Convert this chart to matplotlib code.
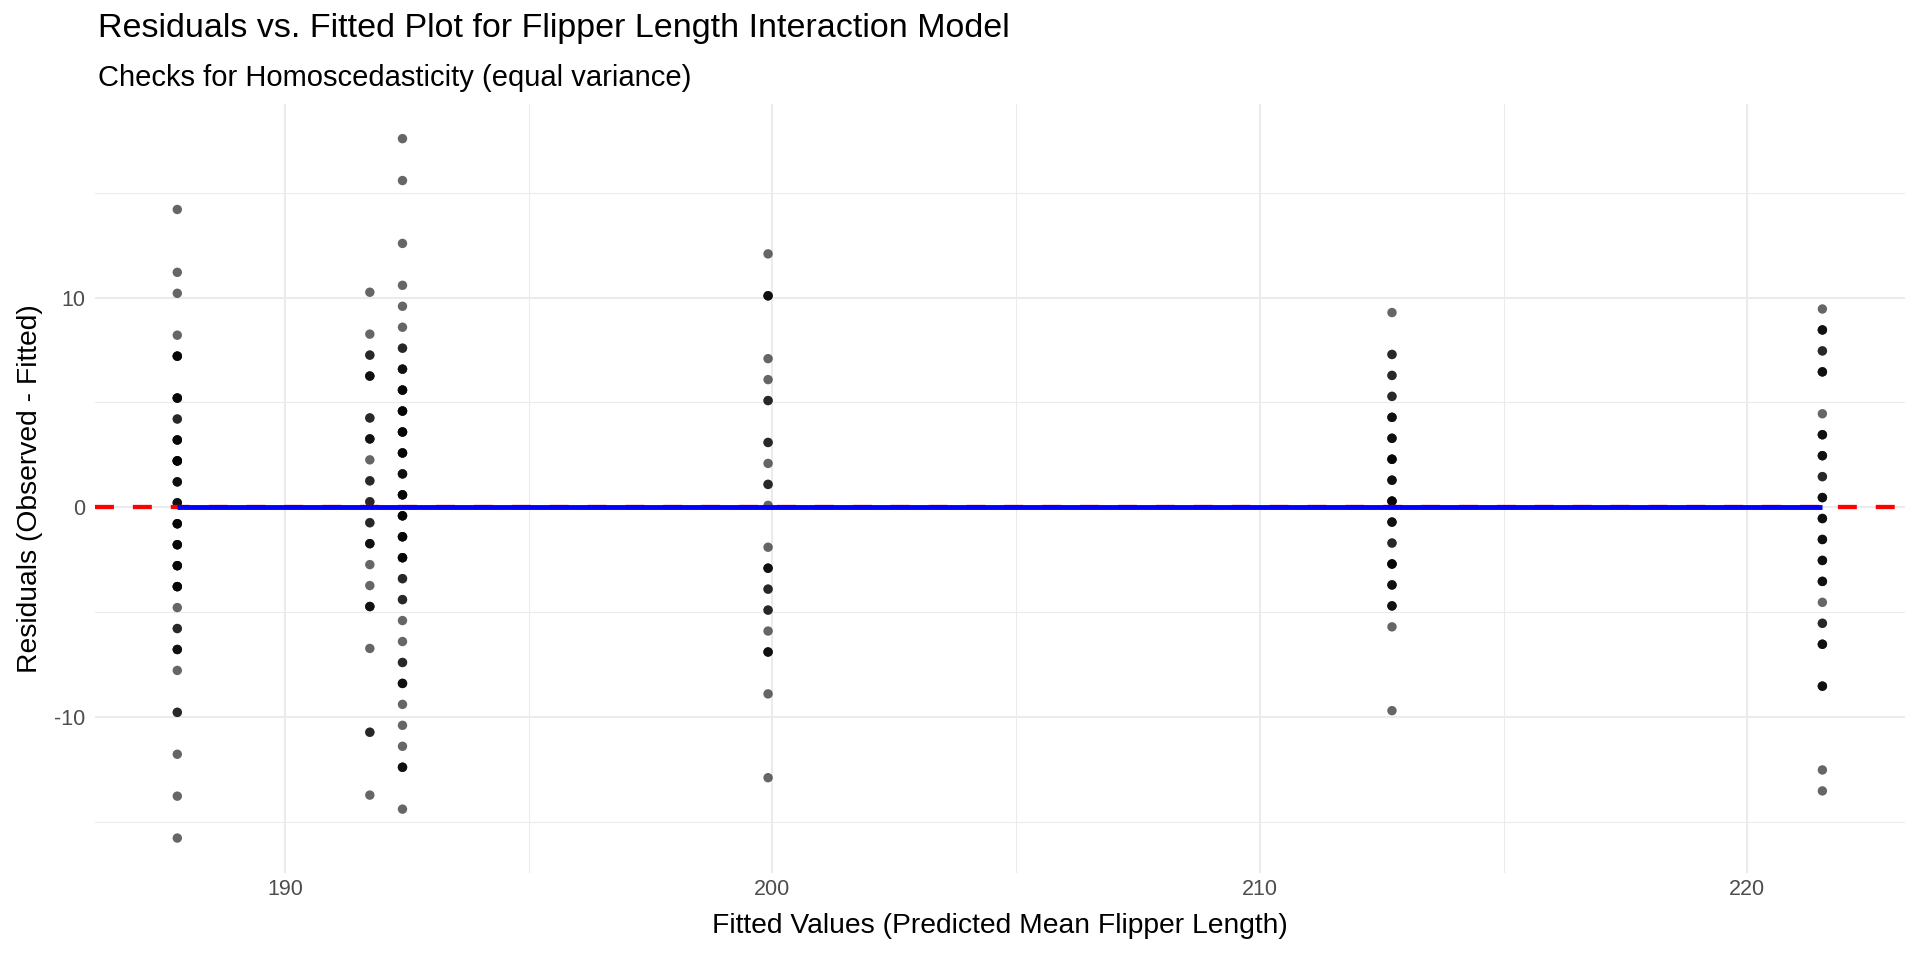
import numpy as np
import matplotlib
matplotlib.use("Agg")
import matplotlib.pyplot as plt

# fitted group means (species x sex) and observed flipper lengths per group
fitted = [187.79, 191.74, 192.41, 199.91, 212.71, 221.54]
groups = ["Adelie F", "Chinstrap F", "Adelie M", "Chinstrap M", "Gentoo F", "Gentoo M"]

obs_adelie_f = {202: 1, 199: 1, 198: 1, 196: 1, 195: 4, 193: 4, 192: 2, 191: 4,
                190: 6, 189: 3, 188: 3, 187: 4, 186: 4, 185: 4, 184: 4, 183: 1,
                182: 2, 181: 3, 180: 1, 178: 2, 176: 1, 174: 1, 172: 1}
obs_chinstrap_f = {202: 1, 200: 1, 199: 2, 198: 3, 196: 2, 195: 3, 194: 1, 193: 2,
                   192: 2, 191: 2, 190: 3, 189: 1, 188: 1, 187: 3, 185: 1, 181: 2,
                   178: 1}
obs_adelie_m = {210: 1, 208: 1, 205: 1, 203: 1, 202: 1, 201: 1, 200: 2, 199: 3,
                198: 4, 197: 4, 196: 4, 195: 4, 194: 3, 193: 4, 192: 4, 191: 4,
                190: 4, 189: 2, 188: 2, 187: 1, 186: 1, 185: 2, 184: 3, 183: 1,
                182: 1, 181: 1, 180: 3, 178: 1}
obs_chinstrap_m = {212: 1, 210: 3, 207: 1, 206: 1, 205: 2, 203: 2, 202: 1, 201: 2,
                   200: 1, 198: 1, 197: 3, 196: 2, 195: 2, 194: 1, 193: 3, 191: 1,
                   187: 1}
obs_gentoo_f = {222: 1, 220: 2, 219: 2, 218: 2, 217: 3, 216: 3, 215: 4, 214: 3,
                213: 4, 212: 3, 211: 2, 210: 4, 209: 3, 208: 3, 207: 1, 203: 1}
obs_gentoo_m = {231: 1, 230: 3, 229: 2, 228: 3, 226: 1, 225: 3, 224: 3, 223: 2,
                222: 3, 221: 3, 220: 3, 219: 3, 218: 3, 217: 1, 216: 2, 215: 3,
                213: 3, 209: 1, 208: 1}

observed = [obs_adelie_f, obs_chinstrap_f, obs_adelie_m,
            obs_chinstrap_m, obs_gentoo_f, obs_gentoo_m]

xs, ys = [], []
for fit, obs in zip(fitted, observed):
    for v, n in obs.items():
        xs += [fit] * n
        ys += [v - fit] * n
xs = np.array(xs)
ys = np.array(ys)

plt.rcParams['font.family'] = ['Liberation Sans', 'DejaVu Sans']
plt.rcParams['axes.unicode_minus'] = False

fig = plt.figure(figsize=(19.2, 9.6), dpi=100)
ax = fig.add_axes([0.0495, 0.0906, 0.9425, 0.8014])

ax.set_xticks([190, 200, 210, 220])
ax.set_xticks([185, 195, 205, 215], minor=True)
ax.set_yticks([-10, 0, 10])
ax.set_yticklabels(["-10", "0", "10"])
ax.set_yticks([-15, -5, 5, 15], minor=True)

# ggplot-like 5% expansion (set after ticks so they don't widen the view)
xr = xs.max() - xs.min()
yr = ys.max() - ys.min()
ax.set_xlim(xs.min() - 0.05 * xr, xs.max() + 0.05 * xr)
ax.set_ylim(ys.min() - 0.05 * yr, ys.max() + 0.05 * yr)

ax.grid(True, which='major', color='#EBEBEB', linewidth=1.45)
ax.grid(True, which='minor', color='#EBEBEB', linewidth=0.75)
ax.set_axisbelow(True)
for s in ax.spines.values():
    s.set_visible(False)
ax.tick_params(which='both', length=0)
ax.tick_params(axis='both', labelsize=15.5, labelcolor='#4D4D4D')
ax.tick_params(axis='x', pad=4)
ax.tick_params(axis='y', pad=7)

ax.scatter(xs, ys, s=46, color='black', alpha=0.6, edgecolors='none', zorder=3)
ax.axhline(0, color='red', linewidth=3.1, linestyle=(0, (4.4, 4.4)), zorder=4)
# least-squares line of residuals on fitted values is flat at zero
ax.plot([xs.min(), xs.max()], [0, 0], color='blue', linewidth=3.5,
        solid_capstyle='butt', zorder=5)

ax.set_xlabel("Fitted Values (Predicted Mean Flipper Length)", fontsize=20.3, labelpad=10)
ax.set_ylabel("Residuals (Observed - Fitted)", fontsize=20.3, labelpad=8)

fig.text(0.051, 0.970, "Residuals vs. Fitted Plot for Flipper Length Interaction Model",
         fontsize=24.5, va='center', ha='left')
fig.text(0.051, 0.919, "Checks for Homoscedasticity (equal variance)",
         fontsize=21.0, va='center', ha='left')

fig.savefig("out.png", dpi=100, facecolor='white')
